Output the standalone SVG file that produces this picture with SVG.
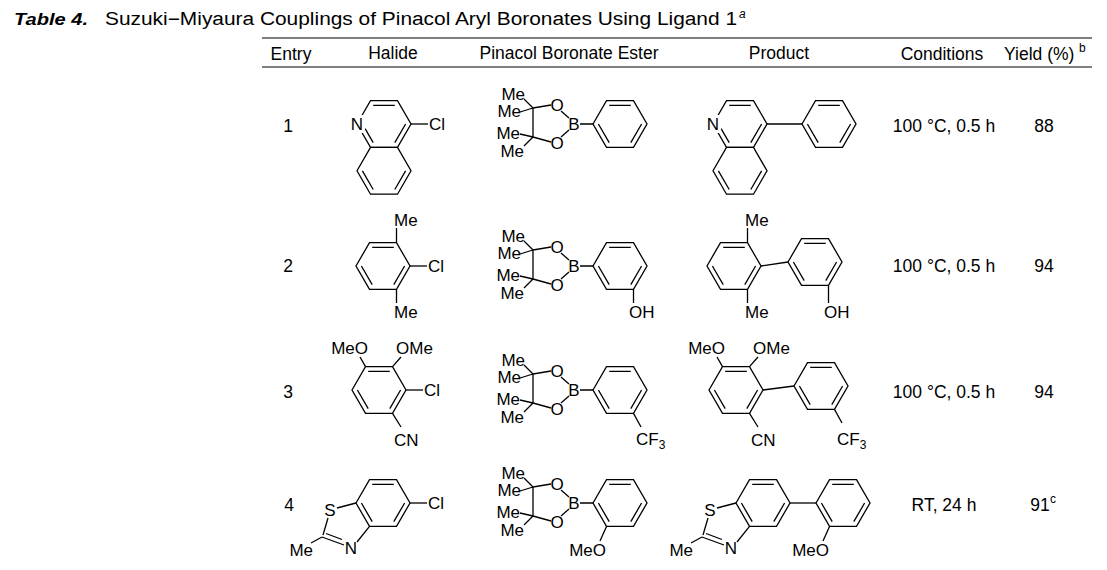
<svg xmlns="http://www.w3.org/2000/svg" width="1107" height="570" viewBox="0 0 1107 570">
<style>
text{font-family:"Liberation Sans",Arial,sans-serif;fill:#000}
.t{font-size:17.5px}
.l{font-size:17px}
.m{text-anchor:middle}
.e{text-anchor:end}
.halo{paint-order:stroke;stroke:#fff;stroke-width:6px}
.b{fill:none;stroke:#000;stroke-width:1.3}
.rule{stroke:#000;stroke-width:1.2}
.sub{font-size:12px}
</style>
<defs>
<path id="hex" class="b" d="M-27,0L-13.5,-23.4L13.5,-23.4L27,0L13.5,23.4L-13.5,23.4Z"/>
<path id="kek" class="b" d="M-10.8,-18.7H10.8M21.6,0L10.8,18.7M-21.6,0L-10.8,18.7"/>
<g id="pin">
<path class="b" d="M-41,-16V13M-41,-16L-23,-19M-13,-13L-5,-6M-41,13L-23,18M-13,13L-5,6M-41,-16L-50,-25M-41,-16L-54,-12M-41,13L-54,10M-41,13L-50,22M6,0H19"/>
<text class="l e" x="-49" y="-24">Me</text>
<text class="l e" x="-53" y="-7">Me</text>
<text class="l e" x="-54" y="15">Me</text>
<text class="l e" x="-50" y="33">Me</text>
<text class="l m" x="-17" y="-13">O</text>
<text class="l m" x="-17" y="25">O</text>
<text class="l m" x="0" y="6">B</text>
</g>
<g id="quin">
<use href="#hex"/>
<use href="#hex" y="46.8"/>
<path class="b" d="M-10.8,-18.7H10.8M21.6,0L10.8,18.7M-18.9,4.7L-10.8,18.7M-21.6,46.8L-10.8,65.5M21.6,46.8L10.8,65.5"/>
<text class="l m halo" x="-27" y="6">N</text>
</g>
<g id="xyl">
<use href="#hex"/><use href="#kek"/>
<path class="b" d="M13.5,-23.4V-38M13.5,23.4V37"/>
<text class="l" x="11" y="-40">Me</text>
<text class="l" x="11" y="52">Me</text>
</g>
<g id="dmo">
<use href="#hex"/><use href="#kek"/>
<path class="b" d="M-13.5,-23.4L-19,-33M13.5,-23.4L22,-33M13.5,23.4L22,37"/>
<text class="l e" x="-11" y="-36">MeO</text>
<text class="l" x="17" y="-36">OMe</text>
<text class="l" x="15" y="56">CN</text>
</g>
<g id="btz">
<use href="#hex"/><use href="#kek"/>
<path class="b" d="M-27,0L-46,5M-55,15L-60,32M-61,34L-39,42M-57,30.5L-41,36.5M-26,39L-13.5,23.4M-61,34L-72,40"/>
<text class="l m" x="-53" y="13">S</text>
<text class="l m" x="-32" y="51">N</text>
<text class="l e" x="-70" y="53">Me</text>
</g>
</defs>

<g id="title">
<text x="14" y="25" style="font-size:17px;font-weight:bold;font-style:italic" textLength="74" lengthAdjust="spacingAndGlyphs">Table 4.</text>
<text x="105" y="25" style="font-size:18px" textLength="632" lengthAdjust="spacingAndGlyphs">Suzuki−Miyaura Couplings of Pinacol Aryl Boronates Using Ligand 1</text>
<text x="739" y="18" style="font-size:12px;font-style:italic">a</text>
</g>
<g id="header">
<line class="rule" x1="262" y1="38" x2="1092" y2="38"/>
<line class="rule" x1="262" y1="67" x2="1092" y2="67"/>
<text class="t m" x="291" y="60">Entry</text>
<text class="t m" x="393" y="59">Halide</text>
<text class="t m" x="569" y="59">Pinacol Boronate Ester</text>
<text class="t m" x="779" y="59">Product</text>
<text class="t m" x="942" y="60">Conditions</text>
<text class="t" x="1004" y="60">Yield (%)</text>
<text x="1079" y="52" style="font-size:12px">b</text>
</g>

<g id="entries">
<text class="t m" x="288" y="132">1</text>
<text class="t m" x="288" y="272">2</text>
<text class="t m" x="288" y="398">3</text>
<text class="t m" x="289" y="511">4</text>
<text class="t m" x="944" y="132">100 °C, 0.5 h</text>
<text class="t m" x="944" y="272">100 °C, 0.5 h</text>
<text class="t m" x="944" y="398">100 °C, 0.5 h</text>
<text class="t m" x="944" y="511">RT, 24 h</text>
<text class="t m" x="1044" y="132">88</text>
<text class="t m" x="1044" y="272">94</text>
<text class="t m" x="1044" y="398">94</text>
<text class="t m" x="1040" y="511">91</text>
<text x="1050" y="503" style="font-size:12px">c</text>
</g>

<g id="row1-halide" transform="translate(384,124)">
<use href="#quin"/>
<path class="b" d="M27,0H44"/><text class="l" x="45" y="6">Cl</text>
</g>
<g id="row1-boronate" transform="translate(574,124)">
<use href="#pin"/><use href="#hex" x="46"/><use href="#kek" x="46"/>
</g>
<g id="row1-product" transform="translate(740,124)">
<use href="#quin"/>
<path class="b" d="M27,0H62"/>
<use href="#hex" x="89"/><use href="#kek" x="89"/>
</g>

<g id="row2-halide" transform="translate(383,266)">
<use href="#xyl"/>
<path class="b" d="M27,0H44"/><text class="l" x="45" y="6">Cl</text>
</g>
<g id="row2-boronate" transform="translate(574,266)">
<use href="#pin"/><use href="#hex" x="46"/><use href="#kek" x="46"/>
<path class="b" d="M59.5,23.4V37"/><text class="l" x="55" y="52">OH</text>
</g>
<g id="row2-product" transform="translate(734,266)">
<use href="#xyl"/>
<path class="b" d="M27,0L54,-4"/>
<use href="#hex" x="81" y="-4"/><use href="#kek" x="81" y="-4"/>
<path class="b" d="M94.5,19.4V37"/><text class="l" x="90" y="52">OH</text>
</g>

<g id="row3-halide" transform="translate(379,390)">
<use href="#dmo"/>
<path class="b" d="M27,0H44"/><text class="l" x="45" y="6">Cl</text>
</g>
<g id="row3-boronate" transform="translate(574,390)">
<use href="#pin"/><use href="#hex" x="46"/><use href="#kek" x="46"/>
<path class="b" d="M59.5,23.4L67,37"/><text class="l" x="62" y="55">CF<tspan dy="4" class="sub">3</tspan></text>
</g>
<g id="row3-product" transform="translate(736,390)">
<use href="#dmo"/>
<path class="b" d="M27,0L58,-4"/>
<use href="#hex" x="85" y="-4"/><use href="#kek" x="85" y="-4"/>
<path class="b" d="M98.5,19.4L106,33"/><text class="l" x="101" y="55">CF<tspan dy="4" class="sub">3</tspan></text>
</g>

<g id="row4-halide" transform="translate(383,503)">
<use href="#btz"/>
<path class="b" d="M27,0H44"/><text class="l" x="45" y="6">Cl</text>
</g>
<g id="row4-boronate" transform="translate(574,503)">
<use href="#pin"/><use href="#hex" x="46"/><use href="#kek" x="46"/>
<path class="b" d="M32.5,23.4L26,38"/><text class="l e" x="32" y="53">MeO</text>
</g>
<g id="row4-product" transform="translate(763,503)">
<use href="#btz"/>
<path class="b" d="M27,0H53"/>
<use href="#hex" x="80"/><use href="#kek" x="80"/>
<path class="b" d="M66.5,23.4L60,38"/><text class="l e" x="66" y="53">MeO</text>
</g>
</svg>
